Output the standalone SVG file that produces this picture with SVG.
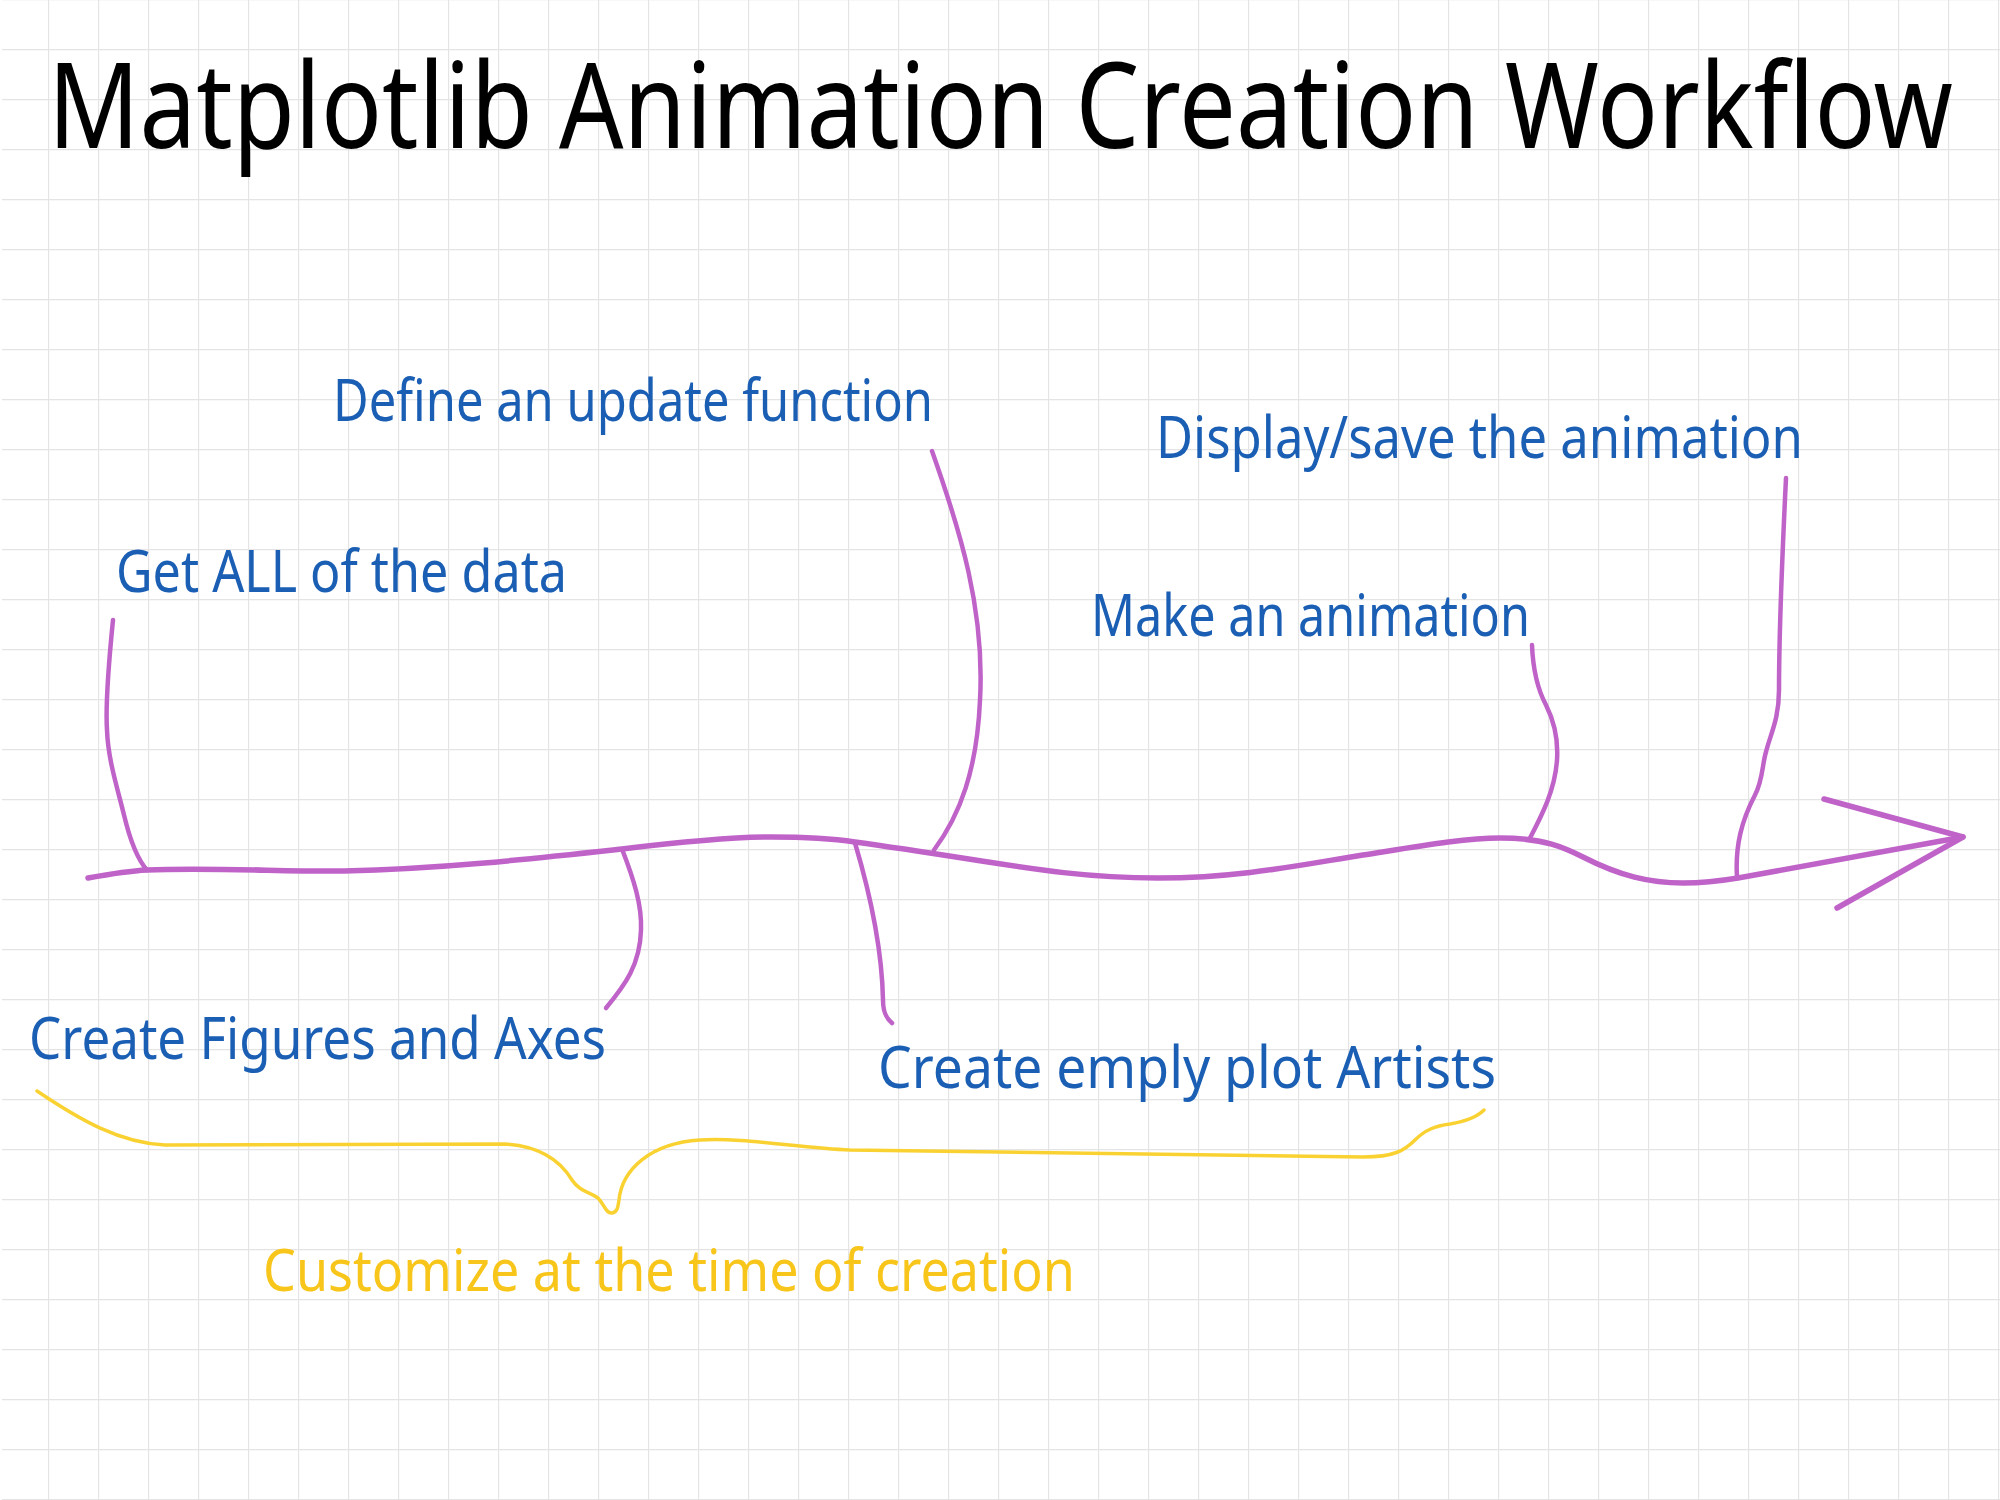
<svg xmlns="http://www.w3.org/2000/svg" width="2000" height="1500" viewBox="0 0 2000 1500">
  <defs>
    <pattern id="grid" patternUnits="userSpaceOnUse" x="48" y="49" width="50" height="50">
      <path d="M0.5 0 V50 M0 0.5 H50" fill="none" stroke="#e4e4e4" stroke-width="1.3"/>
    </pattern>
    <style>
      .title { font-family: "Noto Sans", "Liberation Sans", sans-serif; font-size: 98px; fill: #000000; }
      .lbl { font-family: "Noto Sans", "Liberation Sans", sans-serif; font-size: 58px; fill: #1b5fb4; }
      .ylbl { font-family: "Noto Sans", "Liberation Sans", sans-serif; font-size: 58px; fill: #f8c51a; }
      .main { fill: none; stroke: #c063c9; stroke-width: 5.5; stroke-linecap: round; stroke-linejoin: round; }
      .branch { fill: none; stroke: #c063c9; stroke-width: 4.5; stroke-linecap: round; stroke-linejoin: round; }
      .brace { fill: none; stroke: #f9d232; stroke-width: 3.5; stroke-linecap: round; stroke-linejoin: round; }
    </style>
  </defs>
  <rect x="0" y="0" width="2000" height="1500" fill="#ffffff"/>
  <rect x="2" y="0" width="1998" height="1500" fill="url(#grid)"/>

  <g id="title">
    <text class="title" transform="translate(48,148) scale(1,1.22)" x="0" y="0" textLength="1905" lengthAdjust="spacingAndGlyphs">Matplotlib Animation Creation Workflow</text>
  </g>

  <g id="connectors">
    <path id="timeline" class="main" d="M 88 878 C 110 874 128 871 147 870 C 210 867 290 872 344 871 C 440 869 530 859 622 849 C 680 842 730 837 772 837 C 810 837 835 839 855 842 C 1000 862 1060 878 1158 878 C 1240 878 1300 865 1363 855 C 1420 846 1465 838 1500 838 C 1545 838 1565 848 1583 857 C 1620 876 1650 883 1683 883 C 1700 883 1720 881 1738 878 L 1963 837"/>
    <path id="arrowhead" class="main" d="M 1824 799 L 1963 837 L 1837 908"/>
    <path id="c-getdata" class="branch" d="M 113 620 C 110 650 105 700 107 730 C 108 760 118 790 124 815 C 130 840 138 860 147 870"/>
    <path id="c-figures" class="branch" d="M 622 849 C 634 880 642 905 641 930 C 640 965 625 985 606 1008"/>
    <path id="c-artists" class="branch" d="M 855 843 C 872 900 882 950 883 1000 C 883 1012 886 1018 892 1023"/>
    <path id="c-update" class="branch" d="M 932 451 C 960 530 985 610 980 700 C 977 770 960 815 934 850"/>
    <path id="c-animation" class="branch" d="M 1532 645 C 1533 670 1538 690 1546 705 C 1556 725 1558 745 1557 760 C 1555 790 1542 815 1530 838"/>
    <path id="c-display" class="branch" d="M 1786 478 C 1782 560 1779 640 1779 690 C 1779 720 1770 735 1766 752 C 1762 765 1763 780 1755 795 C 1742 820 1735 845 1737 877"/>
    <path id="brace" class="brace" d="M 37 1091 C 80 1120 120 1143 165 1145 L 505 1144 C 540 1146 560 1160 572 1180 C 580 1192 590 1192 598 1198 C 604 1204 606 1214 612 1213 C 618 1212 618 1206 619 1200 C 622 1170 650 1143 700 1140 C 740 1137 800 1148 850 1150 L 1363 1157 C 1395 1157 1405 1150 1415 1140 C 1425 1130 1435 1126 1450 1124 C 1468 1121 1478 1116 1484 1110"/>
  </g>

  <g id="node-get-data">
    <text class="lbl" x="116" y="592" textLength="451" lengthAdjust="spacingAndGlyphs">Get ALL of the data</text>
  </g>
  <g id="node-update">
    <text class="lbl" x="333" y="421" textLength="600" lengthAdjust="spacingAndGlyphs">Define an update function</text>
  </g>
  <g id="node-display">
    <text class="lbl" x="1156" y="458" textLength="647" lengthAdjust="spacingAndGlyphs">Display/save the animation</text>
  </g>
  <g id="node-make">
    <text class="lbl" x="1091" y="636" textLength="439" lengthAdjust="spacingAndGlyphs">Make an animation</text>
  </g>
  <g id="node-figures">
    <text class="lbl" x="29" y="1059" textLength="577" lengthAdjust="spacingAndGlyphs">Create Figures and Axes</text>
  </g>
  <g id="node-artists">
    <text class="lbl" x="878" y="1088" textLength="618" lengthAdjust="spacingAndGlyphs">Create emply plot Artists</text>
  </g>
  <g id="node-customize">
    <text class="ylbl" x="263" y="1291" textLength="812" lengthAdjust="spacingAndGlyphs">Customize at the time of creation</text>
  </g>
</svg>
